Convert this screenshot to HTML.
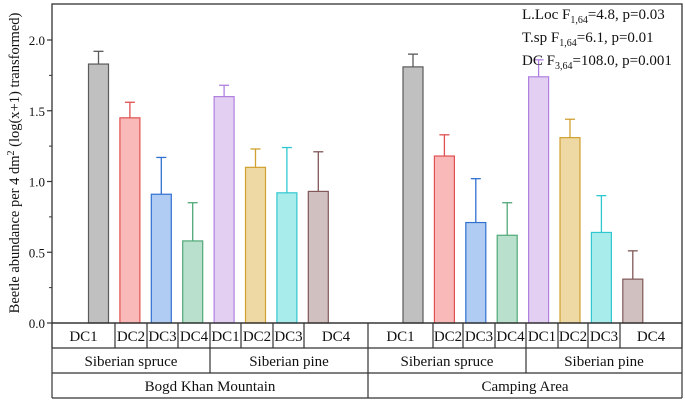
<!DOCTYPE html>
<html><head><meta charset="utf-8"><style>
body{margin:0;background:#fff}
svg{display:block}
svg text{font-family:"Liberation Serif","Times New Roman",serif}
</style></head><body>
<svg id="c" width="685" height="400" viewBox="0 0 685 400"></svg>
<script>
const categories=["DC1","DC2","DC3","DC4","DC1","DC2","DC3","DC4","DC1","DC2","DC3","DC4","DC1","DC2","DC3","DC4"];
const means=[1.83,1.45,0.91,0.58,1.60,1.10,0.92,0.93,1.81,1.18,0.71,0.62,1.74,1.31,0.64,0.31];
const errTops=[1.92,1.56,1.17,0.85,1.68,1.23,1.24,1.21,1.90,1.33,1.02,0.85,1.86,1.44,0.90,0.51];
const yTicks=[0,0.5,1.0,1.5,2.0];
const yTickLabels=["0.0","0.5","1.0","1.5","2.0"];
const fills=["#c0c0c0","#f9b9b9","#b0ccf2","#b8e0cc","#e2cff2","#eed9a4","#a8ecec","#d0c0c0"];
const strokes=["#5a5a5a","#e05050","#3070d0","#50a878","#b080e0","#d0a030","#30c8d0","#805858"];
const ns="http://www.w3.org/2000/svg";
const svg=document.getElementById('c');
const SERIF='Liberation Serif, Times New Roman, serif';
function el(t,a,p){const e=document.createElementNS(ns,t);for(const k in a)e.setAttribute(k,a[k]);(p||svg).appendChild(e);return e;}
const L=52,R=682,T=4,B=323;
const y=v=>B-v*141.5;
const xc=i=>(i<8?98.5:413)+(i%8)*31.4;
means.forEach((m,i)=>{
  const c=xc(i),k=i%8;
  const ln=el('line',{x1:c,x2:c,y1:y(errTops[i]),y2:y(m),stroke:strokes[k],'stroke-width':1.3});
  
  
  const cap=el('line',{x1:c-5,x2:c+5,y1:y(errTops[i]),y2:y(errTops[i]),stroke:strokes[k],'stroke-width':1.3});
  
  
  const r=el('rect',{x:c-10,y:y(m),width:20,height:B-y(m),fill:fills[k],stroke:strokes[k],'stroke-width':1.2});
  
  
});
const fr=el('rect',{x:L,y:T,width:R-L,height:B-T,fill:'none',stroke:'#333','stroke-width':1.3});


yTicks.forEach((v,i)=>{
  el('line',{x1:L-5,x2:L,y1:y(v),y2:y(v),stroke:'#333','stroke-width':1.2});
  if(v<2){el('line',{x1:L-3,x2:L,y1:y(v+0.25),y2:y(v+0.25),stroke:'#333','stroke-width':1});}
  const t=el('text',{x:L-7,y:y(v)+5,'text-anchor':'end','font-family':'Liberation Sans, Arial, sans-serif','font-size':13,fill:'#111'});
  t.textContent=yTickLabels[i];
  
  
});
const tb=el('g',{stroke:'#333','stroke-width':1.2,fill:'none'});


[323,348,373,398].forEach(yy=>el('line',{x1:L,x2:R,y1:yy,y2:yy},tb));
el('line',{x1:L,x2:L,y1:323,y2:398},tb);el('line',{x1:R,x2:R,y1:323,y2:398},tb);
const row1=[52,115,147,178,210,241,273,304,368,433,463,495,526,558,588,620,682];
row1.forEach(xx=>el('line',{x1:xx,x2:xx,y1:323,y2:348},tb));
[210,368,526].forEach(xx=>el('line',{x1:xx,x2:xx,y1:348,y2:373},tb));
el('line',{x1:368,x2:368,y1:373,y2:398},tb);
function txt(x,yy,s,name,size){const t=el('text',{x:x,y:yy,'text-anchor':'middle','font-family':SERIF,'font-size':size||15,fill:'#111'});t.textContent=s;return t;}
categories.forEach((c,i)=>txt((row1[i]+row1[i+1])/2,341,c,'x-category-label'));
[["Siberian spruce",52,210],["Siberian pine",210,368],["Siberian spruce",368,526],["Siberian pine",526,682]].forEach(a=>txt((a[1]+a[2])/2,366,a[0],'tree-species-label'));
txt(210,391,"Bogd Khan Mountain",'location-label');
txt(525,391,"Camping Area",'location-label');
const yt=el('text',{transform:'translate(19,163) rotate(-90)','text-anchor':'middle','font-family':SERIF,'font-size':14.5,fill:'#111'});
yt.innerHTML='Beetle abundance per 4 dm<tspan dy="-5" font-size="10">2</tspan><tspan dy="5"> (log(x+1) transformed)</tspan>';


const ann=[['L.Loc F','1,64','=4.8, p=0.03'],['T.sp F','1,64','=6.1, p=0.01'],['DC F','3,64','=108.0, p=0.001']];
ann.forEach((a,i)=>{
  const t=el('text',{x:522,y:19+i*23,'font-family':SERIF,'font-size':15,fill:'#111'});
  t.innerHTML=a[0]+'<tspan dy="4" font-size="10">'+a[1]+'</tspan><tspan dy="-4">'+a[2]+'</tspan>';
  
  
});
</script>
</body></html>
